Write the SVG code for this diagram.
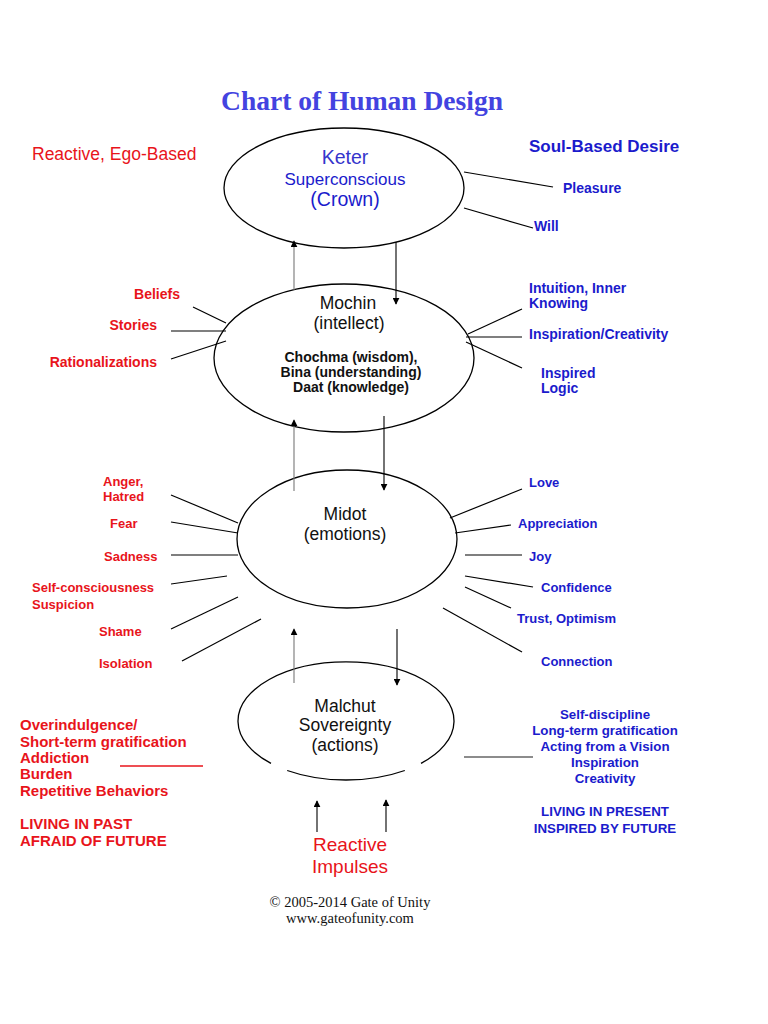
<svg xmlns="http://www.w3.org/2000/svg" width="768" height="1024" viewBox="0 0 768 1024">
<style>
.bg{fill:#fff}
.node{fill:none;stroke:#000;stroke-width:1.3}
.ln{stroke:#000;stroke-width:1.2;fill:none}
.gl{stroke:#666;stroke-width:1.4;fill:none}
.ar{stroke:#000;stroke-width:1.1;fill:none;marker-end:url(#ah)}
.aru{stroke:#777;stroke-width:1.1;fill:none;marker-end:url(#ah)}
.nt{font-family:"Liberation Sans",Arial,sans-serif;font-size:17.5px;fill:#111;text-anchor:middle}
.nb{font-family:"Liberation Sans",Arial,sans-serif;font-size:14px;font-weight:bold;fill:#111;text-anchor:middle}
.r{font-family:"Liberation Sans",Arial,sans-serif;font-weight:bold;fill:#e8141b}
.b{font-family:"Liberation Sans",Arial,sans-serif;font-weight:bold;fill:#1b1bcc}
.s13{font-size:13px}
.s133{font-size:13.3px}
.s14{font-size:14px}
.s15{font-size:15px}
.c{text-anchor:middle}
</style>
<defs>
<marker id="ah" viewBox="0 0 10 10" refX="9" refY="5" markerWidth="7" markerHeight="7" markerUnits="userSpaceOnUse" orient="auto">
<path d="M0,0 L10,5 L0,10 z" fill="#000"/>
</marker>
</defs>
<rect class="bg" x="0" y="0" width="768" height="1024"/>

<text x="362" y="110" text-anchor="middle" font-family="'Liberation Serif','Times New Roman',serif" font-size="27.5" font-weight="bold" fill="#4343e0">Chart of Human Design</text>
<text x="32" y="160" font-family="'Liberation Sans',Arial,sans-serif" font-size="17.5" fill="#e8141b">Reactive, Ego-Based</text>
<text x="529" y="152" font-family="'Liberation Sans',Arial,sans-serif" font-size="17" font-weight="bold" fill="#1b1bcc">Soul-Based Desire</text>

<g id="keter">
<ellipse class="node" cx="344" cy="188" rx="120" ry="60"/>
<text x="345" y="164" text-anchor="middle" font-family="'Liberation Sans',Arial,sans-serif" font-size="19.5" fill="#3535cc">Keter</text>
<text x="345" y="185" text-anchor="middle" font-family="'Liberation Sans',Arial,sans-serif" font-size="17" fill="#1b1bcc">Superconscious</text>
<text x="345" y="206" text-anchor="middle" font-family="'Liberation Sans',Arial,sans-serif" font-size="19.5" fill="#1b1bcc">(Crown)</text>
</g>

<g id="mochin">
<ellipse class="node" cx="344" cy="358" rx="130" ry="74"/>
<text class="nt" x="348" y="309">Mochin</text>
<text class="nt" x="349" y="329">(intellect)</text>
<text class="nb" x="351" y="362">Chochma (wisdom),</text>
<text class="nb" x="351" y="377">Bina (understanding)</text>
<text class="nb" x="351" y="392">Daat (knowledge)</text>
</g>

<g id="midot">
<ellipse class="node" cx="347" cy="539" rx="110" ry="69"/>
<text class="nt" x="345" y="520">Midot</text>
<text class="nt" x="345" y="540">(emotions)</text>
</g>

<g id="malchut">
<path class="node" d="M271,763.4 A108,59 0 1 1 421,763.4"/>
<path class="node" d="M287.2,770.5 A108,59 0 0 0 404.8,770.5"/>
<text class="nt" x="345" y="712">Malchut</text>
<text class="nt" x="345" y="731">Sovereignty</text>
<text class="nt" x="345" y="751">(actions)</text>
</g>

<g id="connectors">
<line class="ln" x1="464" y1="172" x2="553" y2="187"/>
<line class="ln" x1="464" y1="208" x2="533" y2="228"/>
<line class="aru" x1="294" y1="290" x2="294" y2="241"/>
<line class="ar" x1="396" y1="242" x2="396" y2="304"/>
<line class="ln" x1="193" y1="307" x2="226" y2="323"/>
<line class="ln" x1="171" y1="331" x2="226" y2="331"/>
<line class="ln" x1="171" y1="359" x2="226" y2="341"/>
<line class="ln" x1="522" y1="309" x2="468" y2="334"/>
<line class="ln" x1="466" y1="337" x2="522" y2="337"/>
<line class="ln" x1="466" y1="342" x2="522" y2="368"/>
<line class="aru" x1="294" y1="491" x2="294" y2="420"/>
<line class="ar" x1="384" y1="416" x2="384" y2="490"/>
<line class="ln" x1="171" y1="495" x2="238" y2="523"/>
<line class="ln" x1="171" y1="522" x2="238" y2="533"/>
<line class="ln" x1="171" y1="555" x2="238" y2="555"/>
<line class="ln" x1="171" y1="584" x2="227" y2="576"/>
<line class="ln" x1="171" y1="629" x2="238" y2="597"/>
<line class="ln" x1="182" y1="661" x2="261" y2="619"/>
<line class="ln" x1="522" y1="489" x2="450" y2="518"/>
<line class="ln" x1="511" y1="525" x2="455" y2="533"/>
<line class="ln" x1="465" y1="555" x2="522" y2="555"/>
<line class="ln" x1="465" y1="576" x2="533" y2="587"/>
<line class="ln" x1="465" y1="587" x2="511" y2="608"/>
<line class="ln" x1="443" y1="608" x2="522" y2="652"/>
<line class="aru" x1="294" y1="683" x2="294" y2="629"/>
<line class="ar" x1="397" y1="629" x2="397" y2="685"/>
<line x1="120" y1="766" x2="203" y2="766" stroke="#e8141b" stroke-width="1.3"/>
<line class="gl" x1="464" y1="757" x2="533" y2="757"/>
<line class="ar" x1="317" y1="832" x2="317" y2="801"/>
<line class="ar" x1="386" y1="832" x2="386" y2="800"/>
</g>

<g id="keter-labels">
<text class="b s14" x="563" y="193">Pleasure</text>
<text class="b s14" x="534" y="231">Will</text>
</g>

<g id="mochin-labels">
<text class="r s14" x="180" y="299" text-anchor="end">Beliefs</text>
<text class="r s14" x="157" y="330" text-anchor="end">Stories</text>
<text class="r s14" x="157" y="367" text-anchor="end">Rationalizations</text>
<text class="b s14" x="529" y="293">Intuition, Inner</text>
<text class="b s14" x="529" y="308">Knowing</text>
<text class="b s14" x="529" y="339">Inspiration/Creativity</text>
<text class="b s14" x="541" y="378">Inspired</text>
<text class="b s14" x="541" y="393">Logic</text>
</g>

<g id="midot-labels">
<text class="r s13" x="103" y="486">Anger,</text>
<text class="r s13" x="103" y="501">Hatred</text>
<text class="r s13" x="110" y="528">Fear</text>
<text class="r s13" x="104" y="561">Sadness</text>
<text class="r s13" x="32" y="592">Self-consciousness</text>
<text class="r s13" x="32" y="609">Suspicion</text>
<text class="r s13" x="99" y="636">Shame</text>
<text class="r s13" x="99" y="668">Isolation</text>
<text class="b s13" x="529" y="487">Love</text>
<text class="b s13" x="518" y="528">Appreciation</text>
<text class="b s13" x="529" y="561">Joy</text>
<text class="b s13" x="541" y="592">Confidence</text>
<text class="b s13" x="517" y="623">Trust, Optimism</text>
<text class="b s13" x="541" y="666">Connection</text>
</g>

<g id="malchut-labels">
<text class="r s15" x="20" y="730">Overindulgence/</text>
<text class="r s15" x="20" y="747">Short-term gratification</text>
<text class="r s15" x="20" y="763">Addiction</text>
<text class="r s15" x="20" y="779">Burden</text>
<text class="r s15" x="20" y="796">Repetitive Behaviors</text>
<text class="r s15" x="20" y="829">LIVING IN PAST</text>
<text class="r s15" x="20" y="846">AFRAID OF FUTURE</text>
<text class="b s133 c" x="605" y="719">Self-discipline</text>
<text class="b s133 c" x="605" y="735">Long-term gratification</text>
<text class="b s133 c" x="605" y="751">Acting from a Vision</text>
<text class="b s133 c" x="605" y="767">Inspiration</text>
<text class="b s133 c" x="605" y="783">Creativity</text>
<text class="b s133 c" x="605" y="816">LIVING IN PRESENT</text>
<text class="b s133 c" x="605" y="833">INSPIRED BY FUTURE</text>
</g>

<g id="reactive-impulses">
<text x="350" y="851" text-anchor="middle" font-family="'Liberation Sans',Arial,sans-serif" font-size="19" fill="#e8141b">Reactive</text>
<text x="350" y="873" text-anchor="middle" font-family="'Liberation Sans',Arial,sans-serif" font-size="19" fill="#e8141b">Impulses</text>
</g>

<g id="footer">
<text x="350" y="907" text-anchor="middle" font-family="'Liberation Serif','Times New Roman',serif" font-size="14.5" fill="#111">© 2005-2014 Gate of Unity</text>
<text x="350" y="923" text-anchor="middle" font-family="'Liberation Serif','Times New Roman',serif" font-size="14.5" fill="#111">www.gateofunity.com</text>
</g>
</svg>
